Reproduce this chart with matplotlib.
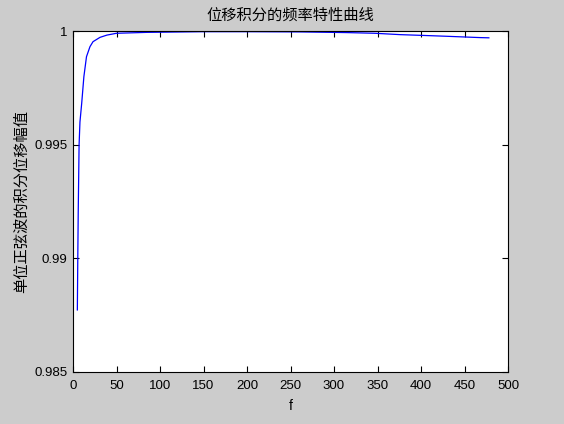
import matplotlib
matplotlib.use("Agg")
import matplotlib.pyplot as plt

plt.rcParams['font.family'] = ['Liberation Sans', 'Noto Sans CJK SC', 'DejaVu Sans']

# values
freq = [5, 5.5, 6, 7, 8, 10, 12.5, 15.5, 19.5, 23, 31, 39, 50, 85, 150, 200, 261,
        315, 347, 376, 399, 428, 468, 478]
amp = [0.98773, 0.9900, 0.9920, 0.9950, 0.9960, 0.99682, 0.99799, 0.99887, 0.99931,
       0.99953, 0.99972, 0.99982, 0.99990, 0.99994, 0.99997, 0.99997, 0.99996,
       0.99993, 0.99990, 0.99984, 0.99981, 0.99977, 0.99971, 0.99970]

xticks = [0, 50, 100, 150, 200, 250, 300, 350, 400, 450, 500]
yticks = [0.985, 0.99, 0.995, 1]
ytick_labels = ['0.985', '0.99', '0.995', '1']

fig = plt.figure(figsize=(5.64, 4.24), dpi=100, facecolor='#cccccc')
ax = fig.add_axes([73 / 564, 52 / 424, 435 / 564, 341 / 424])
ax.set_facecolor('white')

ax.plot(freq, amp, color='#0000ff', linewidth=0.9)

ax.set_xlim(0, 500)
ax.set_ylim(0.985, 1)
ax.set_xticks(xticks)
ax.set_xticklabels([str(t) for t in xticks])
ax.set_yticks(yticks)
ax.set_yticklabels(ytick_labels)
ax.tick_params(direction='in', top=True, right=True, length=4, width=0.8,
               labelsize=9.5)
ax.tick_params(axis='x', pad=6)
ax.tick_params(axis='y', pad=4)
for s in ax.spines.values():
    s.set_linewidth(0.8)

cjk = ['Noto Sans CJK SC', 'DejaVu Sans']
ax.set_title('位移积分的频率特性曲线', family=cjk, fontsize=11, pad=8)
ax.set_xlabel('f', fontsize=10, labelpad=5)
ax.set_ylabel('单位正弦波的积分位移幅值', family=cjk, fontsize=11, labelpad=3)

fig.savefig('out.png', dpi=100, facecolor=fig.get_facecolor())
